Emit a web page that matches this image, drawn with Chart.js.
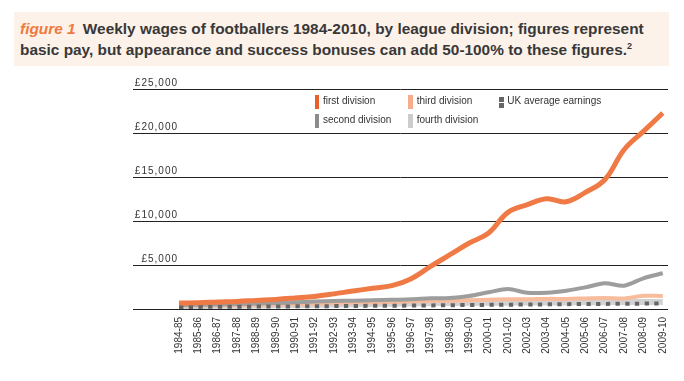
<!DOCTYPE html>
<html>
<head>
<meta charset="utf-8">
<script src="https://cdn.jsdelivr.net/npm/chart.js@4"></script>
<style>
  html, body { margin: 0; padding: 0; background: #fff; }
  #wrap { position: relative; width: 684px; height: 381px; overflow: hidden; font-family: "Liberation Sans", Arial, sans-serif; }
  #title { position: absolute; left: 14px; top: 12px; width: 655px; height: 54px; background: #fdf2ea; }
  #title p { margin: 0; position: absolute; left: 6px; top: 6px; font-weight: bold; font-size: 15.4px; line-height: 21px; color: #383838; white-space: nowrap; }
  #title .fig { color: #ef7a3d; font-style: italic; margin-right: 3px; }
  #title sup { font-size: 9px; vertical-align: 6px; line-height: 0; }
  canvas { position: absolute; left: 0; top: 0; }
  .lg { position: absolute; font-size: 10px; line-height: 14px; height: 14px; color: #333; white-space: nowrap; }
  .mk { position: absolute; width: 4.3px; height: 14px; }
  .sq { position: absolute; width: 5px; height: 5px; background: #666; }
</style>
</head>
<body>
<div id="wrap">
  <div id="title"><p><span class="fig">figure 1</span> Weekly wages of footballers 1984-2010, by league division; figures represent<br>basic pay, but appearance and success bonuses can add 50-100% to these figures.<sup>2</sup></p></div>
  <canvas id="c" width="684" height="381"></canvas>
  <div class="mk" style="left:315px;top:95px;background:#e8602c"></div>
  <div class="lg" style="left:323px;top:94px">first division</div>
  <div class="mk" style="left:408.3px;top:95px;background:#f5ad8a"></div>
  <div class="lg" style="left:416.7px;top:94px">third division</div>
  <div class="sq" style="left:498.5px;top:96.7px"></div>
  <div class="sq" style="left:498.5px;top:103.3px"></div>
  <div class="lg" style="left:507.3px;top:94px">UK average earnings</div>
  <div class="mk" style="left:315px;top:114px;background:#8c8c8c"></div>
  <div class="lg" style="left:323px;top:112.5px">second division</div>
  <div class="mk" style="left:408.3px;top:114px;background:#cccccc"></div>
  <div class="lg" style="left:416.7px;top:112.5px">fourth division</div>
</div>
<script>
const seasons = ["1984-85","1985-86","1986-87","1987-88","1988-89","1989-90","1990-91","1991-92","1992-93","1993-94","1994-95","1995-96","1996-97","1997-98","1998-99","1999-00","2000-01","2001-02","2002-03","2003-04","2004-05","2005-06","2006-07","2007-08","2008-09","2009-10"];
const firstDivision  = [680,715,795,865,980,1090,1250,1430,1720,2050,2350,2650,3450,4840,6170,7500,8640,10980,11850,12530,12190,13250,14690,18100,20180,22270];
const secondDivision = [450,480,520,560,620,680,760,850,900,950,1000,1050,1100,1215,1250,1480,1900,2270,1850,1850,2080,2460,2920,2650,3490,4060];
const thirdDivision  = [380,400,420,450,480,520,560,600,650,700,750,800,850,900,950,1000,1050,1100,1100,1150,1150,1200,1250,1200,1500,1480];
const fourthDivision = [330,340,360,380,400,420,450,480,510,540,570,600,630,660,680,700,710,720,730,740,750,760,780,790,800,800];
const ukAverage      = [230,240,250,260,270,285,300,315,330,345,360,375,390,410,430,450,470,490,510,530,550,565,580,595,610,620];
const yTicks = [5000,10000,15000,20000,25000];

const pts = arr => arr.map((v, i) => ({ x: i, y: v }));

const yLabelPlugin = {
  id: 'yLabels',
  afterDraw(chart) {
    const ctx = chart.ctx, y = chart.scales.y;
    ctx.save();
    ctx.font = '10px "Liberation Sans", Arial, sans-serif';
    ctx.letterSpacing = '1px';
    ctx.fillStyle = '#333';
    ctx.textAlign = 'right';
    ctx.textBaseline = 'alphabetic';
    yTicks.forEach(v => {
      ctx.fillText('£' + v.toLocaleString('en-GB'), 178, y.getPixelForValue(v) - 3);
    });
    ctx.restore();
  }
};

new Chart(document.getElementById('c'), {
  type: 'line',
  data: {
    datasets: [
      { label: 'first division', data: pts(firstDivision), borderColor: '#ef7a45', borderWidth: 5, tension: 0.4, order: 0 },
      { label: 'UK average earnings', data: pts(ukAverage), borderColor: '#666666', borderWidth: 4, borderDash: [4.3, 5.4], borderCapStyle: 'butt', tension: 0.4, order: 1 },
      { label: 'second division', data: pts(secondDivision), borderColor: '#9d9d9d', borderWidth: 4, tension: 0.3, order: 2 },
      { label: 'third division', data: pts(thirdDivision), borderColor: '#f8bc9c', borderWidth: 4, tension: 0.4, order: 3 },
      { label: 'fourth division', data: pts(fourthDivision), borderColor: '#d2d2d2', borderWidth: 6, tension: 0.4, order: 4 }
    ]
  },
  options: {
    responsive: false,
    animation: false,
    events: [],
    elements: { point: { radius: 0 } },
    layout: { padding: { left: 133, right: 16, top: 89, bottom: 0 } },
    plugins: { legend: { display: false }, tooltip: { enabled: false } },
    scales: {
      x: {
        type: 'linear',
        min: -2.38,
        max: 25.27,
        afterFit(s) { s.height = 72; },
        afterBuildTicks(s) { s.ticks = seasons.map((_, i) => ({ value: i })); },
        grid: { display: false, drawTicks: false },
        border: { display: false },
        ticks: {
          autoSkip: false,
          minRotation: 90,
          maxRotation: 90,
          padding: 8,
          color: '#333',
          font: { family: '"Liberation Sans", Arial, sans-serif', size: 10 },
          callback: v => seasons[v]
        }
      },
      y: {
        min: 0,
        max: 25000,
        afterFit(s) { s.width = 0; },
        afterBuildTicks(s) { s.ticks = [0, ...yTicks].map(v => ({ value: v })); },
        grid: { color: '#222', lineWidth: 1, drawTicks: false },
        border: { display: false },
        ticks: { display: false }
      }
    }
  },
  plugins: [yLabelPlugin]
});
</script>
</body>
</html>
